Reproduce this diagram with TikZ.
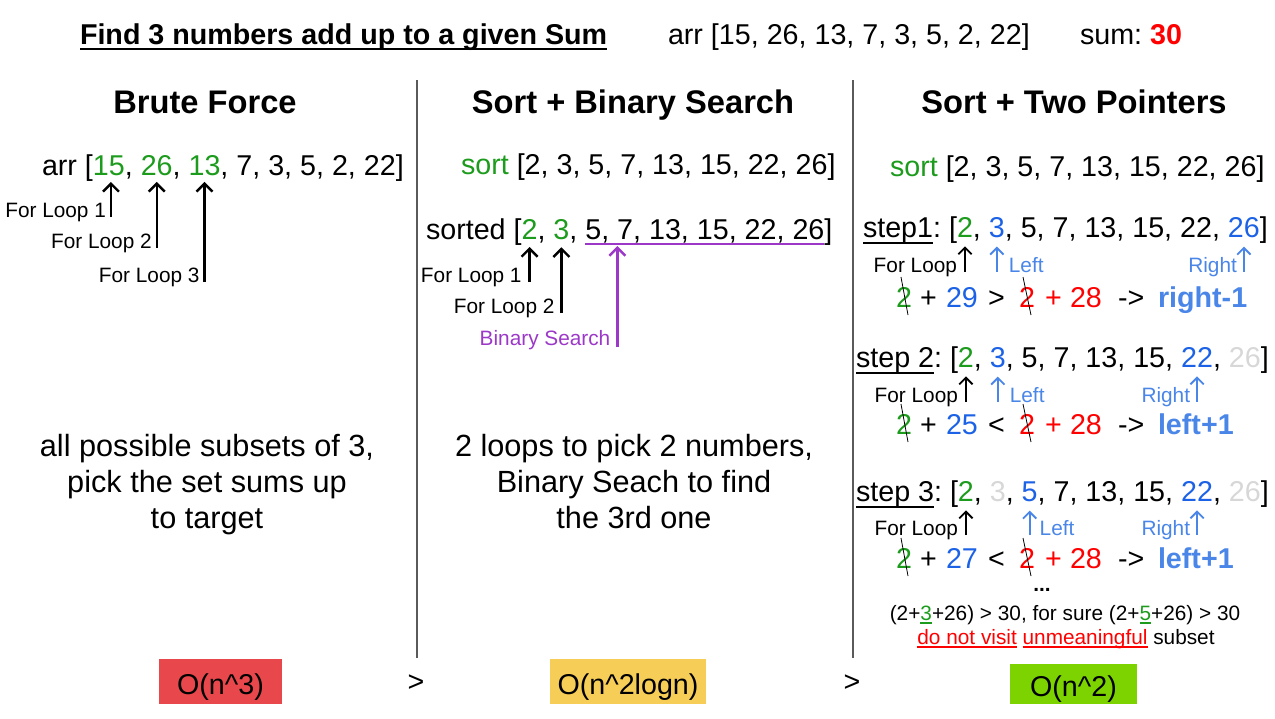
\documentclass[tikz,border=0pt]{standalone}
\usepackage{fontspec}
\setmainfont{Liberation Sans}
\usetikzlibrary{arrows.meta,calc}
\definecolor{cgreen}{RGB}{28,155,28}
\definecolor{cblue}{RGB}{28,98,230}
\definecolor{lblue}{RGB}{74,134,232}
\definecolor{cred}{RGB}{255,0,0}
\definecolor{cpurple}{RGB}{156,56,200}
\definecolor{cgrey}{RGB}{215,215,215}
\definecolor{boxred}{RGB}{232,71,76}
\definecolor{boxyellow}{RGB}{246,206,87}
\definecolor{boxgreen}{RGB}{125,211,0}
\definecolor{dgrey}{RGB}{90,90,90}
\newcommand{\fmain}{\fontsize{21.5pt}{25pt}\selectfont}
\newcommand{\fhead}{\fontsize{24.5pt}{28pt}\selectfont\bfseries}
\newcommand{\fsmall}{\fontsize{15.6pt}{19pt}\selectfont}
\newcommand{\fdesc}{\fontsize{23pt}{27pt}\selectfont}
\newcommand{\csp}{\ \hbox{}}
\newcommand{\myul}[1]{\setbox0\hbox{#1}\rlap{\rule[-2.8pt]{\wd0}{1pt}}\box0}
\newcommand{\myeqrow}[5]{%
 \node[pc,text=cgreen] (#1a) at (896,#2) {2};
 \node[pc] (#1b) at (920,#2) {+};
 \node[pc,text=cblue] (#1c) at (946,#2) {#3};
 \node[pc] (#1d) at (988,#2) {#4};
 \node[pc,text=cred] (#1e) at (1019,#2) {2};
 \node[pc,text=cred] (#1f) at (1045,#2) {+};
 \node[pc,text=cred] (#1g) at (1070,#2) {28};
 \node[pc] (#1h) at (1118,#2) {->};
 \node[pc,font=\fmain\bfseries,text=lblue] (#1i) at (1158,#2) {#5};
 \draw[strike] ($(#1a.base west)+(5,-30)$) -- ($(#1a.base west)+(12,8)$);
 \draw[strike] ($(#1e.base west)+(4,-30)$) -- ($(#1e.base west)+(12,8)$);
}
\begin{document}
\begin{tikzpicture}[x=0.75pt,y=-0.75pt,
  pc/.style={inner sep=0pt,outer sep=0pt,anchor=base west,font=\fmain},
  lbl/.style={inner sep=0pt,outer sep=0pt,font=\fsmall},
  desc/.style={inner sep=0pt,outer sep=0pt,anchor=base,font=\fdesc},
  head/.style={inner sep=0pt,outer sep=0pt,anchor=base,font=\fhead},
  big/.style={line width=1.8pt,-{Straight Barb[length=6pt,width=12pt]}},
  sml/.style={line width=1.4pt,-{Straight Barb[length=5pt,width=10pt]}},
  strike/.style={line width=0.6pt,black},
  uln/.style={line width=1.5pt},
  divider/.style={line width=0.8pt,draw=dgrey},
  cbox/.style={inner sep=0pt,font=\fmain,text height=19pt,text depth=0pt}]
\useasboundingbox (0,0) rectangle (1275,718);
% ---- top line
\node[pc,font=\fmain\bfseries] (title) at (80,44) {Find 3 numbers add up to a given Sum};
\draw[uln] ($(title.base west)+(0,5)$) -- ($(title.base east)+(0,5)$);
\node[pc] (toparr) at (668,44) {arr [15, 26, 13, 7, 3, 5, 2, 22]};
\node[pc] (sumlbl) at (1080,44) {sum:\csp};
\node[pc,font=\fmain\bfseries,text=cred] (sumval) at (sumlbl.base east) {30};
% ---- headings
\node[head] (h1) at (205,113) {Brute Force};
\node[head] (h2) at (633,113) {Sort + Binary Search};
\node[head] (h3) at (1074,113) {Sort + Two Pointers};
% ---- dividers
\draw[divider] (417,80) -- (417,658);
\draw[divider] (853,80) -- (853,658);
% ---- column 1
\node[pc] (c1p0) at (42,175) {arr [};
\node[pc,text=cgreen] (c1d1) at (c1p0.base east) {15};
\node[pc] (c1p1) at (c1d1.base east) {,\csp};
\node[pc,text=cgreen] (c1d2) at (c1p1.base east) {26};
\node[pc] (c1p2) at (c1d2.base east) {,\csp};
\node[pc,text=cgreen] (c1d3) at (c1p2.base east) {13};
\node[pc] (c1p3) at (c1d3.base east) {, 7, 3, 5, 2, 22]};
\coordinate (c1f1) at ($(c1d1.base)+(2,42)$);
\coordinate (c1f2) at ($(c1d2.base)+(0,73)$);
\coordinate (c1f3) at ($(c1d3.base)+(0,107)$);
\draw[big,shorten >=5pt] (c1f1) -- (c1d1.south -| c1f1);
\draw[big,shorten >=5pt] (c1f2) -- (c1d2.south);
\draw[big,shorten >=5pt] (c1f3) -- (c1d3.south);
\node[lbl,anchor=base east] (c1l1) at ($(c1f1)+(-5,0)$) {For Loop 1};
\node[lbl,anchor=base east] (c1l2) at ($(c1f2)+(-5,0)$) {For Loop 2};
\node[lbl,anchor=base east] (c1l3) at ($(c1f3)+(-5,0)$) {For Loop 3};
\node[desc] (d1a) at (207,456) {all possible subsets of 3,};
\node[desc] (d1b) at (207,492) {pick the set sums up};
\node[desc] (d1c) at (207,528) {to target};
\node[cbox,fill=boxred,minimum width=92.25pt,minimum height=33.75pt] (o1) at (220.5,681.5) {O(n\textasciicircum 3)};
\node[font=\fmain] (gt1) at (416,683) {>};
% ---- column 2
\node[pc,text=cgreen] (bs0) at (461,174) {sort};
\node[pc] (bs1) at (bs0.base east) {\ [2, 3, 5, 7, 13, 15, 22, 26]};
\node[pc] (bp0) at (426,239) {sorted [};
\node[pc,text=cgreen] (bd1) at (bp0.base east) {2};
\node[pc] (bp1) at (bd1.base east) {,\csp};
\node[pc,text=cgreen] (bd2) at (bp1.base east) {3};
\node[pc] (bp2) at (bd2.base east) {,\csp};
\node[pc] (brest) at (bp2.base east) {5, 7, 13, 15, 22, 26};
\node[pc] (bp3) at (brest.base east) {]};
\draw[line width=1.1pt,cpurple] ($(brest.base west)+(0,5)$) -- ($(brest.base east)+(0,5)$);
\coordinate (bf1) at ($(bd1.base)+(0,43)$);
\coordinate (bf2) at ($(bd2.base)+(0,74)$);
\coordinate (bsTop) at ($(brest.base west)+(32,7)$);
\coordinate (bsBot) at ($(brest.base west)+(32,108)$);
\draw[big,shorten >=6pt] (bf1) -- (bd1.south);
\draw[big,shorten >=6pt] (bf2) -- (bd2.south);
\draw[big,cpurple] (bsBot) -- (bsTop);
\node[lbl,anchor=base east] (bl1) at ($(bf1)+(-8,0)$) {For Loop 1};
\node[lbl,anchor=base east] (bl2) at ($(bf2)+(-7,0)$) {For Loop 2};
\node[lbl,anchor=base east,text=cpurple] (bl3) at ($(bsBot)+(-7,-2)$) {Binary Search};
\node[desc] (d2a) at (634,456) {2 loops to pick 2 numbers,};
\node[desc] (d2b) at (634,492) {Binary Seach to find};
\node[desc] (d2c) at (634,528) {the 3rd one};
\node[cbox,fill=boxyellow,minimum width=117pt,minimum height=33.75pt] (o2) at (628,681.5) {O(n\textasciicircum 2logn)};
\node[font=\fmain] (gt2) at (852,683) {>};
% ---- column 3
\node[pc,text=cgreen] (ts0) at (890,176) {sort};
\node[pc] (ts1) at (ts0.base east) {\ [2, 3, 5, 7, 13, 15, 22, 26]};
% step 1
\node[pc] (p1s) at (863,237) {step1};
\draw[uln] ($(p1s.base west)+(0,5.5)$) -- ($(p1s.base east)+(0,5.5)$);
\node[pc] (p1a) at (p1s.base east) {:\ [};
\node[pc,text=cgreen] (p1g) at (p1a.base east) {2};
\node[pc] (p1b) at (p1g.base east) {,\csp};
\node[pc,text=cblue] (p1l) at (p1b.base east) {3};
\node[pc] (p1c) at (p1l.base east) {, 5, 7, 13, 15, 22,\csp};
\node[pc,text=cblue] (p1r) at (p1c.base east) {26};
\node[pc] (p1d) at (p1r.base east) {]};
\coordinate (p1fg) at ($(p1g.base)+(0,35)$);
\coordinate (p1fl) at ($(p1l.base)+(0,35)$);
\coordinate (p1fr) at ($(p1r.base)+(0,35)$);
\draw[sml,shorten >=7pt] (p1fg) -- (p1g.south);
\draw[sml,lblue,shorten >=7pt] (p1fl) -- (p1l.south);
\draw[sml,lblue,shorten >=7pt] (p1fr) -- (p1r.south);
\node[lbl,anchor=base east] (p1lg) at ($(p1fg)+(-8,0)$) {For Loop};
\node[lbl,anchor=base west,text=lblue] (p1ll) at ($(p1fl)+(12,0)$) {Left};
\node[lbl,anchor=base east,text=lblue] (p1lr) at ($(p1fr)+(-7,0)$) {Right};
\myeqrow{e1}{307}{29}{>}{right-1}
% step 2
\node[pc] (p2s) at (856,367) {step 2};
\draw[uln] ($(p2s.base west)+(0,5.5)$) -- ($(p2s.base east)+(0,5.5)$);
\node[pc] (p2a) at (p2s.base east) {:\ [};
\node[pc,text=cgreen] (p2g) at (p2a.base east) {2};
\node[pc] (p2b) at (p2g.base east) {,\csp};
\node[pc,text=cblue] (p2l) at (p2b.base east) {3};
\node[pc] (p2c) at (p2l.base east) {, 5, 7, 13, 15,\csp};
\node[pc,text=cblue] (p2r) at (p2c.base east) {22};
\node[pc] (p2e) at (p2r.base east) {,\csp};
\node[pc,text=cgrey] (p2x) at (p2e.base east) {26};
\node[pc] (p2d) at (p2x.base east) {]};
\coordinate (p2fg) at ($(p2g.base)+(0,35)$);
\coordinate (p2fl) at ($(p2l.base)+(0,35)$);
\coordinate (p2fr) at ($(p2r.base)+(0,35)$);
\draw[sml,shorten >=7pt] (p2fg) -- (p2g.south);
\draw[sml,lblue,shorten >=7pt] (p2fl) -- (p2l.south);
\draw[sml,lblue,shorten >=7pt] (p2fr) -- (p2r.south);
\node[lbl,anchor=base east] (p2lg) at ($(p2fg)+(-8,0)$) {For Loop};
\node[lbl,anchor=base west,text=lblue] (p2ll) at ($(p2fl)+(12,0)$) {Left};
\node[lbl,anchor=base east,text=lblue] (p2lr) at ($(p2fr)+(-7,0)$) {Right};
\myeqrow{e2}{434}{25}{<}{left+1}
% step 3
\node[pc] (p3s) at (856,501) {step 3};
\draw[uln] ($(p3s.base west)+(0,5.5)$) -- ($(p3s.base east)+(0,5.5)$);
\node[pc] (p3a) at (p3s.base east) {:\ [};
\node[pc,text=cgreen] (p3g) at (p3a.base east) {2};
\node[pc] (p3b) at (p3g.base east) {,\csp};
\node[pc,text=cgrey] (p3x) at (p3b.base east) {3};
\node[pc] (p3h) at (p3x.base east) {,\csp};
\node[pc,text=cblue] (p3l) at (p3h.base east) {5};
\node[pc] (p3c) at (p3l.base east) {, 7, 13, 15,\csp};
\node[pc,text=cblue] (p3r) at (p3c.base east) {22};
\node[pc] (p3e) at (p3r.base east) {,\csp};
\node[pc,text=cgrey] (p3y) at (p3e.base east) {26};
\node[pc] (p3d) at (p3y.base east) {]};
\coordinate (p3fg) at ($(p3g.base)+(0,34)$);
\coordinate (p3fl) at ($(p3l.base)+(0,34)$);
\coordinate (p3fr) at ($(p3r.base)+(0,34)$);
\draw[sml,shorten >=7pt] (p3fg) -- (p3g.south);
\draw[sml,lblue,shorten >=7pt] (p3fl) -- (p3l.south);
\draw[sml,lblue,shorten >=7pt] (p3fr) -- (p3r.south);
\node[lbl,anchor=base east] (p3lg) at ($(p3fg)+(-8,0)$) {For Loop};
\node[lbl,anchor=base west,text=lblue] (p3ll) at ($(p3fl)+(10,0)$) {Left};
\node[lbl,anchor=base east,text=lblue] (p3lr) at ($(p3fr)+(-7,0)$) {Right};
\myeqrow{e3}{568}{27}{<}{left+1}
\node[lbl,anchor=base,font=\fsmall\bfseries] (dots) at (1042,591) {...};
\node[lbl,anchor=base] (note1) at (1065,620) {(2+\textcolor{cgreen}{\myul{3}}+26) > 30, for sure (2+\textcolor{cgreen}{\myul{5}}+26) > 30};
\node[lbl,anchor=base] (note2) at (1066,644) {\textcolor{cred}{\myul{do not visit}} \textcolor{cred}{\myul{unmeaningful}} subset};
\node[cbox,fill=boxgreen,minimum width=95.25pt,minimum height=30pt] (o3) at (1073.5,684) {O(n\textasciicircum 2)};
\end{tikzpicture}
\end{document}
